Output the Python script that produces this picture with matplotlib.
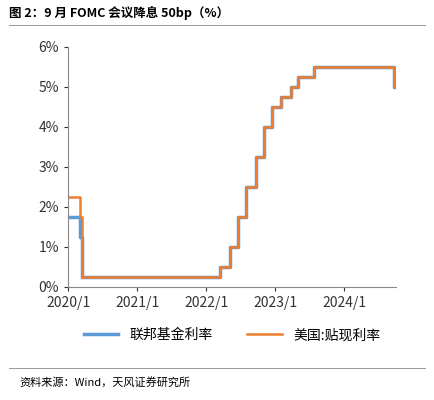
import matplotlib.pyplot as plt
import matplotlib.dates as mdates
import pandas as pd

plt.rcParams['font.family'] = ['Noto Sans CJK SC', 'DejaVu Sans']

# rate change dates and levels (%)
fed_dates = ['2020-01-01', '2020-03-04', '2020-03-16', '2022-03-17', '2022-05-05', '2022-06-16',
             '2022-07-28', '2022-09-22', '2022-11-03', '2022-12-15', '2023-02-02', '2023-03-23',
             '2023-05-04', '2023-07-27', '2024-09-19', '2024-09-30']
fed_rate = [1.75, 1.25, 0.25, 0.50, 1.00, 1.75, 2.50, 3.25, 4.00, 4.50, 4.75, 5.00, 5.25, 5.50, 5.00, 5.00]
disc_rate = [2.25, 1.75, 0.25, 0.50, 1.00, 1.75, 2.50, 3.25, 4.00, 4.50, 4.75, 5.00, 5.25, 5.50, 5.00, 5.00]

dates = pd.to_datetime(fed_dates)

fig = plt.figure(figsize=(4.34, 4.0), dpi=100)
ax = fig.add_axes([0.157, 0.283, 0.755, 0.6])

ax.step(dates, fed_rate, where='post', color='#5b9bd5', lw=2.5, label='联邦基金利率')
ax.step(dates, disc_rate, where='post', color='#ed7d31', lw=1.8, label='美国:贴现利率')

ax.set_ylim(0, 6)
ax.set_yticks(range(7))
ax.set_yticklabels([f'{i}%' for i in range(7)])
ax.set_xlim(pd.Timestamp('2020-01-01'), pd.Timestamp('2024-09-30'))
ax.set_xticks(pd.to_datetime(['2020-01-01', '2021-01-01', '2022-01-01', '2023-01-01', '2024-01-01']))
ax.xaxis.set_major_formatter(mdates.DateFormatter('%Y/%-m'))
for s in ['top', 'right']:
    ax.spines[s].set_visible(False)
for s in ['left', 'bottom']:
    ax.spines[s].set_color('#888888')
ax.tick_params(labelsize=10, colors='#333333', length=3)

ax.legend(loc='upper center', bbox_to_anchor=(0.5, -0.12), ncol=2, frameon=False,
          fontsize=10, handlelength=2.5, columnspacing=2.5)

fig.text(0.02, 0.985, '图 2：9 月 FOMC 会议降息 50bp（%）', fontsize=9, fontweight='bold', va='top')
fig.add_artist(plt.Line2D([0.02, 0.98], [0.938, 0.938], color='#888888', lw=0.6))
fig.add_artist(plt.Line2D([0.02, 0.98], [0.08, 0.08], color='#888888', lw=0.6))
fig.text(0.045, 0.045, '资料来源：Wind，天风证券研究所', fontsize=8, va='center')

fig.savefig('out.png', dpi=100)
